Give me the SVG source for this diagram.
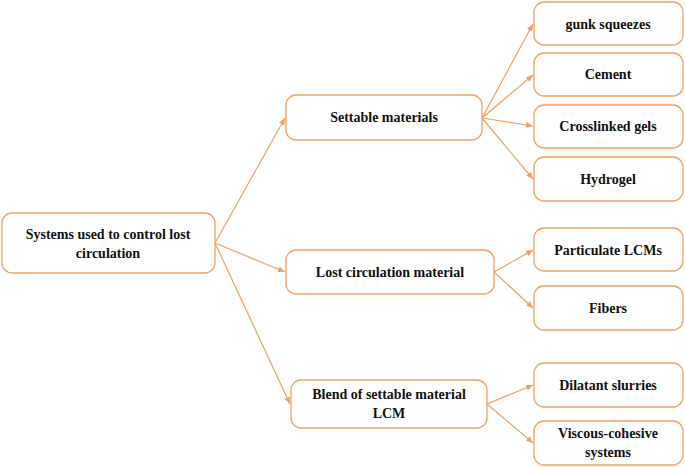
<svg xmlns="http://www.w3.org/2000/svg" width="685" height="467" viewBox="0 0 685 467">
<style>
.b{fill:#fff;stroke:#f4a064;stroke-width:1.3}
.t{font-family:"Liberation Serif",serif;font-weight:bold;font-size:14px;fill:#111;text-anchor:middle}
.c{stroke:#f4a064;stroke-width:1.2;fill:none;marker-end:url(#a)}
</style>
<defs><marker id="a" markerWidth="8" markerHeight="8" refX="7" refY="4" orient="auto" markerUnits="userSpaceOnUse"><path d="M0,1 L7,4 L0,7 z" fill="#f4a064"/></marker></defs>
<rect width="685" height="467" fill="#fff"/>
<g id="connectors">
<path class="c" d="M215,243 L285,118"/>
<path class="c" d="M215,243 L285,272"/>
<path class="c" d="M215,243 L290,404"/>
<path class="c" d="M482,118 L533,24"/>
<path class="c" d="M482,118 L533,75"/>
<path class="c" d="M482,118 L533,126"/>
<path class="c" d="M482,118 L533,179"/>
<path class="c" d="M494,272 L533,250"/>
<path class="c" d="M494,272 L533,308"/>
<path class="c" d="M487,404 L533,385"/>
<path class="c" d="M487,404 L533,443"/>
</g>
<g id="root"><rect class="b" x="2" y="213" width="213" height="60" rx="10"/><text class="t" x="108" y="239">Systems used to control lost</text><text class="t" x="108" y="258">circulation</text></g>
<g id="settable"><rect class="b" x="286" y="95" width="196" height="45" rx="10"/><text class="t" x="384" y="122">Settable materials</text></g>
<g id="lcm"><rect class="b" x="286" y="250" width="208" height="44" rx="10"/><text class="t" x="390" y="277">Lost circulation material</text></g>
<g id="blend"><rect class="b" x="291" y="380" width="196" height="48" rx="10"/><text class="t" x="389" y="399">Blend of settable material</text><text class="t" x="389" y="418">LCM</text></g>
<g id="gunk"><rect class="b" x="534" y="2" width="149" height="43" rx="10"/><text class="t" x="608" y="29">gunk squeezes</text></g>
<g id="cement"><rect class="b" x="534" y="53" width="149" height="43" rx="10"/><text class="t" x="608" y="79">Cement</text></g>
<g id="gels"><rect class="b" x="534" y="105" width="149" height="43" rx="10"/><text class="t" x="608" y="131">Crosslinked gels</text></g>
<g id="hydrogel"><rect class="b" x="534" y="157" width="149" height="44" rx="10"/><text class="t" x="608" y="184">Hydrogel</text></g>
<g id="particulate"><rect class="b" x="534" y="228" width="149" height="43" rx="10"/><text class="t" x="608" y="255">Particulate LCMs</text></g>
<g id="fibers"><rect class="b" x="534" y="286" width="149" height="44" rx="10"/><text class="t" x="608" y="313">Fibers</text></g>
<g id="dilatant"><rect class="b" x="534" y="363" width="149" height="44" rx="10"/><text class="t" x="608" y="390">Dilatant slurries</text></g>
<g id="viscous"><rect class="b" x="534" y="421" width="149" height="44" rx="10"/><text class="t" x="608" y="438">Viscous-cohesive</text><text class="t" x="608" y="457">systems</text></g>
</svg>
